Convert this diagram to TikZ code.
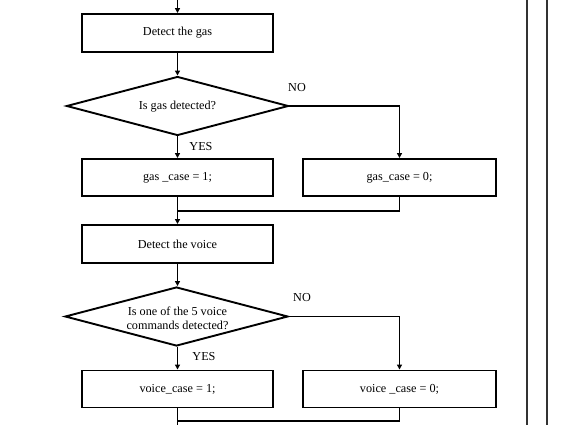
\documentclass[tikz,border=0pt]{standalone}
\usepackage{fontspec}
\setmainfont{Liberation Serif}
\usetikzlibrary{shapes.geometric,arrows.meta}
\begin{document}
\begin{tikzpicture}[x=1pt,y=-1pt,
  procbox/.style={draw,line width=1.9pt,minimum width=191pt,minimum height=37pt,inner sep=0pt,font=\fontsize{12.2}{14}\selectfont},
  decbox/.style={draw,line width=1.9pt,diamond,aspect=3.75,minimum width=222pt,minimum height=59pt,inner sep=0pt,font=\fontsize{12.2}{14}\selectfont,align=center},
  lbl/.style={font=\fontsize{12.2}{14}\selectfont,inner sep=0pt},
  conn/.style={line width=1.8pt},
  arr/.style={conn,-{Triangle[length=5pt,width=5pt]}}]
\useasboundingbox (0,0) rectangle (578,425);
\fill[white] (0,0) rectangle (578,425);
\coordinate (top) at (177.5,0);
\node[procbox,minimum height=38pt] (gas) at (177.5,33) {Detect the gas};
\node[decbox] (d1) at (177.5,106) {};
\node[lbl] (d1t) at (177.5,107) {Is gas detected?};
\node[procbox] (g1) at (177.5,177.5) {gas \_case = 1;};
\node[procbox,minimum width=193pt] (g0) at (399.5,177.5) {gas\_case = 0;};
\coordinate (j1) at (177.5,211);
\node[procbox,minimum height=38pt] (voice) at (177.5,244) {Detect the voice};
\node[decbox,minimum width=223pt] (d2) at (176.5,316.5) {};
\node[lbl,align=center] (d2t) at (177.5,318) {Is one of the 5 voice\\commands detected?};
\node[procbox] (v1) at (177.5,389) {voice\_case = 1;};
\node[procbox,minimum width=193pt] (v0) at (399.5,389) {voice \_case = 0;};
\coordinate (j2) at (177.5,421);
\coordinate (bot) at (177.5,425);
\node[lbl] (no1) at (297,88) {NO};
\node[lbl] (yes1) at (201,147) {YES};
\node[lbl] (no2) at (302,298) {NO};
\node[lbl] (yes2) at (204,357) {YES};
\draw[arr] (top) -- (gas.north);
\draw[arr] (gas.south) -- (d1.north);
\draw[arr] (d1.south) -- (g1.north);
\draw[arr] (d1.east) -| (g0.north);
\draw[conn] (g0.south) |- (j1);
\draw[arr] (g1.south) -- (voice.north);
\draw[arr] (voice.south) -- (d2.north -| voice.south);
\draw[arr] (d2.south -| v1.north) -- (v1.north);
\draw[arr] (d2.east) -| (v0.north);
\draw[conn] (v0.south) |- (j2);
\draw[conn] (v1.south) -- (bot);
\coordinate (r1t) at (527,0);
\coordinate (r1b) at (527,425);
\coordinate (r2t) at (547,0);
\coordinate (r2b) at (547,425);
\draw[line width=1.4pt,black!80] (r1t) -- (r1b);
\draw[line width=1.4pt,black!80] (r2t) -- (r2b);
\end{tikzpicture}
\end{document}
